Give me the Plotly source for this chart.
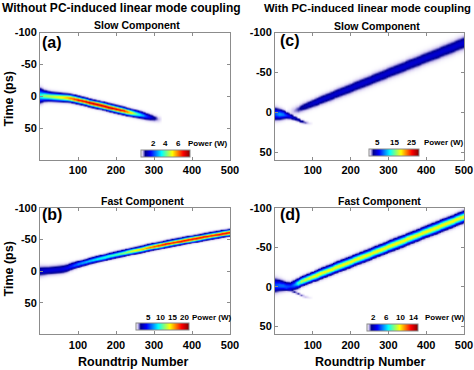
import numpy as np
import plotly.graph_objects as go

W, H = 474, 370
FONT = "Liberation Sans, Arial, sans-serif"

# ---------------- data ----------------
RT = list(range(0, 501, 10))          # roundtrip sampling grid
x_ticks = [100, 200, 300, 400, 500]
y_ticks = [-100, -50, 0, 50]
y_tick_text = ["-100", "-50", "0", "50"]

# Panel (a): slow component, without coupling
a_rt = list(range(0, 311, 10))
a_center = [-1, -0.5, 0, 0.5, 1, 1.5, 2, 2.4, 3, 4.4, 5.9, 7.3, 8.7, 10.2, 11.6, 13, 14.4, 15.9,
            17.3, 18.7, 20.2, 21.6, 23, 24.5, 25.9, 27.3, 28.7, 30.2, 31.6, 33, 34.5, 35.9]
a_peak = [3.5, 4.3, 4.5, 4.6, 4.8, 5.0, 5.2, 5.6, 6.0, 6.4, 6.8, 7.0, 7.2, 7.2, 7.2, 7.2, 7.2, 7.2,
          7.2, 7.2, 7.2, 7.0, 6.6, 6.0, 5.2, 4.2, 3.4, 2.7, 2.0, 1.4, 0.8, 0.3]
a_sigma = [6, 4.5, 4, 3.8, 3.7, 3.6, 3.5, 3.4, 3.3, 3.2, 3.1, 3, 3, 3, 3, 3, 3, 3,
           3, 3, 3, 3, 3, 3, 3, 3, 3, 3, 3, 3, 3, 3]

# Panel (b): fast component, without coupling
b_rt = list(range(0, 501, 10))
b_center = [0, -0.5, -1, -1.5, -2, -2.7, -3.5, -5, -7, -9, -11,
            -12.7, -14.3, -15.9, -17.4, -19, -20.4, -21.8, -23.2, -24.6, -26,
            -27.3, -28.6, -29.9, -31.2, -32.5, -33.8, -35.1, -36.4, -37.7, -39,
            -40.2, -41.4, -42.6, -43.8, -45, -46.1, -47.2, -48.3, -49.4, -50.5,
            -51.6, -52.7, -53.8, -54.9, -56, -57, -58, -59, -60, -61]
b_peak = [3, 3.5, 3.5, 3.5, 3.5, 3.5, 3.8, 4.2, 5, 6, 7,
          7.5, 8, 8.5, 9, 9.3, 9.6, 10, 10.3, 10.6, 11,
          11.5, 12, 12.7, 13.5, 14.3, 15, 15.8, 16.5, 17, 17.5,
          18, 18.5, 19, 19, 19, 19, 19, 19, 19, 19,
          19, 19, 19, 19, 19, 19, 19, 19, 19, 19]
b_sigma = [5, 4.5, 4.2, 4.2, 4.2, 4.2, 4, 3.7, 3.4, 3.1, 2.9,
           2.7, 2.7, 2.7, 2.7, 2.7, 2.7, 2.7, 2.7, 2.7, 2.7,
           2.7, 2.7, 2.7, 2.7, 2.7, 2.7, 2.7, 2.7, 2.7, 2.7,
           2.7, 2.7, 2.7, 2.7, 2.7, 2.7, 2.7, 2.7, 2.7, 2.7,
           2.7, 2.7, 2.7, 2.7, 2.7, 2.7, 2.7, 2.7, 2.7, 2.7]

# Panel (c): slow component, with coupling
c1_rt = list(range(0, 91, 10))
c1_center = [2, 2.5, 3, 4, 5.5, 7.5, 9.5, 11.5, 13, 14]
c1_peak = [8, 10, 9, 7, 5.5, 4.5, 4, 3.5, 2, 0.5]
c1_sigma = [4.5, 3.8, 3.2, 2.5, 2, 1.6, 1.4, 1.3, 1.2, 1.2]

c2_rt = list(range(40, 501, 10))
c2_center = [-1, -2, -3.5, -5.5, -7.5, -9.5, -11.5,
             -13.4, -15.3, -17.2, -19.1, -21, -22.9, -24.8, -26.7, -28.6, -30.5,
             -32.4, -34.3, -36.2, -38.1, -40, -41.9, -43.8, -45.7, -47.6, -49.5,
             -51.4, -53.3, -55.2, -57.1, -59, -60.9, -62.8, -64.7, -66.6, -68.5,
             -70.4, -72.3, -74.2, -76.1, -78, -79.9, -81.8, -83.7, -85.6, -87.5]
c2_peak = [0.4, 1.3, 2.3, 3.1, 3.7, 4.1, 4.4,
           4.6, 4.6, 4.6, 4.6, 4.6, 4.6, 4.6, 4.6, 4.6, 4.6,
           4.6, 4.6, 4.6, 4.6, 4.6, 4.6, 4.6, 4.6, 4.6, 4.6,
           4.6, 4.6, 4.6, 4.6, 4.6, 4.6, 4.6, 4.6, 4.6, 4.6,
           4.6, 4.6, 4.6, 4.6, 4.6, 4.6, 4.6, 4.6, 4.6, 4.6]
c2_sigma = [3.2, 3.2, 3.2, 3.2, 3.2, 3.2, 3.2,
            3.4, 3.4, 3.5, 3.5, 3.6, 3.6, 3.7, 3.7, 3.8, 3.8,
            3.9, 3.9, 4.0, 4.0, 4.0, 4.1, 4.1, 4.1, 4.2, 4.2,
            4.2, 4.3, 4.3, 4.3, 4.4, 4.4, 4.4, 4.5, 4.5, 4.5,
            4.5, 4.6, 4.6, 4.6, 4.6, 4.7, 4.7, 4.7, 4.7, 4.8]

# Panel (d): fast component, with coupling
d1_rt = list(range(0, 61, 10))
d1_center = [-2, -2, -1.5, -1, -0.5, 0, 0]
d1_peak = [4, 4.5, 4.5, 4, 3, 1.5, 0.5]
d1_sigma = [5, 4.2, 3.6, 3.2, 2.8, 2.6, 2.5]

d2_rt = list(range(30, 91, 10))
d2_center = [2, 4, 6.5, 8.5, 10.5, 12.5, 13.5]
d2_peak = [0.8, 1.2, 1.3, 1.2, 1.0, 0.6, 0.2]
d2_sigma = [1.2, 1.1, 1, 1, 1, 1, 1]

d3_rt = list(range(40, 501, 10))
d3_center = [-2.5, -3.5, -5, -7, -9, -11, -13,
             -14.9, -16.8, -18.7, -20.6, -22.5, -24.4, -26.3, -28.2, -30.1, -32,
             -33.9, -35.8, -37.7, -39.6, -41.5, -43.4, -45.3, -47.2, -49.1, -51,
             -52.9, -54.8, -56.7, -58.6, -60.5, -62.4, -64.3, -66.2, -68.1, -70,
             -71.9, -73.8, -75.7, -77.6, -79.5, -81.4, -83.3, -85.2, -87.1, -89]
d3_peak = [1, 4, 7.5, 9, 9.5, 9.8, 10,
           10, 10, 10, 10, 10, 10, 10, 10, 10, 10,
           10, 10, 10, 10, 10, 10, 10, 10, 10, 10,
           10, 10, 10, 10, 10, 10, 10, 10, 10, 10,
           10, 10, 10, 10, 10, 10, 10, 10, 10, 10]
d3_sigma = [3, 3, 3, 3, 3, 3, 3,
            3.3, 3.3, 3.3, 3.3, 3.3, 3.4, 3.4, 3.4, 3.4, 3.4,
            3.4, 3.4, 3.5, 3.5, 3.5, 3.5, 3.5, 3.5, 3.5, 3.5,
            3.6, 3.6, 3.6, 3.6, 3.6, 3.6, 3.6, 3.6, 3.6, 3.6,
            3.7, 3.7, 3.7, 3.7, 3.7, 3.7, 3.7, 3.7, 3.7, 3.7]

# colour-bar scales
cmax_a, cmax_b, cmax_c, cmax_d = 7.8, 21.8, 29.4, 15.3
cb_ticks_a = [2, 4, 6]
cb_ticks_b = [5, 10, 15, 20]
cb_ticks_c = [5, 15, 25]
cb_ticks_d = [2, 6, 10, 14]

headers = ["Without PC-induced linear mode coupling", "With PC-induced linear mode coupling"]
subtitles = ["Slow Component", "Fast Component", "Slow Component", "Fast Component"]
letters = ["(a)", "(b)", "(c)", "(d)"]

# ---------------- build figure ----------------
CS = [[0.0, "#ffffff"], [0.035, "#cdc2ef"], [0.09, "#00008f"], [0.2, "#0000ff"],
      [0.42, "#00ffff"], [0.64, "#ffff00"], [0.86, "#ff0000"], [1.0, "#800000"]]


def px(x):
    return x / W


def py(y):
    return 1 - y / H


def build(ygrid, trajs):
    z = np.zeros((len(ygrid), len(RT)))
    for rts, cs, ps, ss in trajs:
        for r, c, p, s in zip(rts, cs, ps, ss):
            i = RT.index(r)
            z[:, i] += p * np.exp(-0.5 * ((ygrid - c) / s) ** 2)
    return z


y_left = np.arange(-100, 100.01, 0.5)
y_right = np.arange(-100, 60.01, 0.5)

panels = [
    dict(ax="", y=y_left, trajs=[(a_rt, a_center, a_peak, a_sigma)], cmax=cmax_a,
         cb=(140.5, 189.5, 151, 157.5), ticks=cb_ticks_a, lab_y=143.3, pw_x=207),
    dict(ax="2", y=y_left, trajs=[(b_rt, b_center, b_peak, b_sigma)], cmax=cmax_b,
         cb=(136, 189.3, 324, 331.3), ticks=cb_ticks_b, lab_y=317.5, pw_x=211),
    dict(ax="3", y=y_right, trajs=[(c1_rt, c1_center, c1_peak, c1_sigma),
                                   (c2_rt, c2_center, c2_peak, c2_sigma)], cmax=cmax_c,
         cb=(368.7, 418.7, 150, 156.7), ticks=cb_ticks_c, lab_y=142.5, pw_x=443.5),
    dict(ax="4", y=y_right, trajs=[(d1_rt, d1_center, d1_peak, d1_sigma),
                                   (d2_rt, d2_center, d2_peak, d2_sigma),
                                   (d3_rt, d3_center, d3_peak, d3_sigma)], cmax=cmax_d,
         cb=(366.7, 418, 324.3, 331.7), ticks=cb_ticks_d, lab_y=317.3, pw_x=444),
]

fig = go.Figure()
annotations = []
for p in panels:
    z = build(p["y"], p["trajs"])
    l, r, t, b = p["cb"]
    fig.add_trace(go.Heatmap(
        x=RT, y=p["y"], z=z, zmin=0, zmax=p["cmax"], colorscale=CS, zsmooth="best",
        xaxis="x" + p["ax"], yaxis="y" + p["ax"], hoverinfo="skip",
        colorbar=dict(orientation="h", x=px(l), xanchor="left", y=py(b), yanchor="bottom",
                      len=r - l, lenmode="pixels", thickness=b - t, thicknessmode="pixels",
                      outlinewidth=1, outlinecolor="#8a8a8a", showticklabels=False,
                      ticks="", xpad=0, ypad=0),
    ))
    for v in p["ticks"]:
        annotations.append(dict(x=px(l + v / p["cmax"] * (r - l)), y=py(p["lab_y"]),
                                xref="paper", yref="paper", text=f"<b>{v}</b>", showarrow=False,
                                xanchor="center", yanchor="middle",
                                font=dict(family=FONT, size=8, color="black")))
    annotations.append(dict(x=px(p["pw_x"]), y=py(p["lab_y"]), xref="paper", yref="paper",
                            text="<b>Power (W)</b>", showarrow=False, xanchor="center",
                            yanchor="middle", font=dict(family=FONT, size=8, color="black")))

xdom_l = [px(40), px(230)]
xdom_r = [px(275), px(464)]
ydom_t = [py(160), py(32.5)]
ydom_b = [py(334.3), py(207.7)]

axis_common = dict(showline=True, linecolor="#8c8c8c", linewidth=1, mirror="ticks",
                   ticks="inside", ticklen=3, tickcolor="#8c8c8c", showgrid=False,
                   zeroline=False,
                   tickfont=dict(family=FONT, size=11, color="black", weight="bold"))

layout = dict(width=W, height=H, margin=dict(l=0, r=0, t=0, b=0, autoexpand=False),
              paper_bgcolor="white", plot_bgcolor="white", showlegend=False)
for ax, xd, yd, yr in [("", xdom_l, ydom_t, [100, -100]), ("2", xdom_l, ydom_b, [100, -100]),
                       ("3", xdom_r, ydom_t, [60, -100]), ("4", xdom_r, ydom_b, [60, -100])]:
    layout["xaxis" + ax] = dict(domain=xd, range=[0, 500], tickvals=x_ticks,
                                anchor="y" + ax, **axis_common)
    layout["yaxis" + ax] = dict(domain=yd, range=yr, tickvals=y_ticks, ticktext=y_tick_text,
                                anchor="x" + ax, **axis_common)

# headers
for txt, xc, fs in zip(headers, [121, 367.5], [12, 11.3]):
    annotations.append(dict(x=px(xc), y=py(8.5), xref="paper", yref="paper", text=f"<b>{txt}</b>",
                            showarrow=False, xanchor="center", yanchor="middle",
                            font=dict(family=FONT, size=fs, color="black")))
for txt, (xc, yc) in zip(subtitles, [(137, 25.5), (142, 200.5), (377, 26), (379, 200.5)]):
    annotations.append(dict(x=px(xc), y=py(yc), xref="paper", yref="paper", text=f"<b>{txt}</b>",
                            showarrow=False, xanchor="center", yanchor="middle",
                            font=dict(family=FONT, size=10.5, color="black")))
for txt, (xc, yc) in zip(letters, [(51.7, 42.5), (51.7, 214), (289.5, 41), (289.5, 214)]):
    annotations.append(dict(x=px(xc), y=py(yc), xref="paper", yref="paper", text=f"<b>{txt}</b>",
                            showarrow=False, xanchor="center", yanchor="middle",
                            font=dict(family=FONT, size=16, color="black")))
for yc in [99, 269]:
    annotations.append(dict(x=px(8.5), y=py(yc), xref="paper", yref="paper", text="<b>Time (ps)</b>",
                            showarrow=False, xanchor="center", yanchor="middle", textangle=-90,
                            font=dict(family=FONT, size=12.5, color="black")))
for xc in [133, 370]:
    annotations.append(dict(x=px(xc), y=py(361.5), xref="paper", yref="paper",
                            text="<b>Roundtrip Number</b>", showarrow=False, xanchor="center",
                            yanchor="middle", font=dict(family=FONT, size=12.5, color="black")))

layout["annotations"] = annotations
fig.update_layout(**layout)
fig.write_html("out.html", config={"displayModeBar": False},
               post_script="document.body.style.margin='0';document.body.style.padding='0';"
                           "document.documentElement.style.overflow='hidden';")
